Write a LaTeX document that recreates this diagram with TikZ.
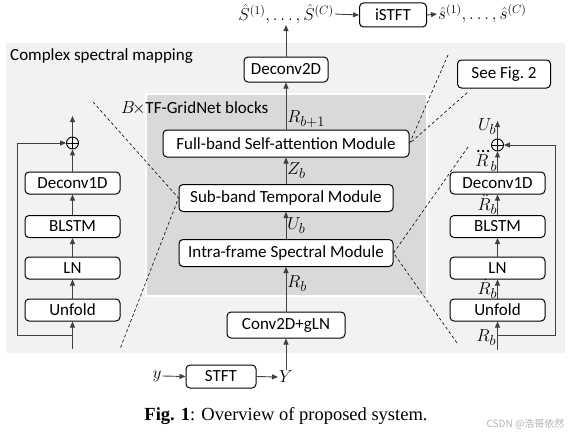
\documentclass[tikz,border=0pt]{standalone}
\usepackage{amsmath}
\usepackage{fontspec}
\setmainfont{Carlito}
\newfontfamily\capfont{Liberation Serif}
\newfontfamily\cjkfont{Noto Sans CJK SC}
\usetikzlibrary{arrows.meta}
\definecolor{outerbg}{HTML}{F2F2F2}
\definecolor{innerbg}{HTML}{D9D9D9}
\definecolor{linegray}{HTML}{404040}
\tikzset{
  box/.style={draw=black, line width=1pt, rounded corners=4pt, fill=white, inner sep=0pt,
    font=\fontsize{17}{20}\selectfont},
  arr/.style={-{Triangle[length=6pt,width=5pt]}, line width=0.9pt, draw=linegray},
  dsh/.style={dash pattern=on 3pt off 2.5pt, line width=0.6pt, draw=black},
  lbl/.style={inner sep=1pt, font=\fontsize{17}{20}\selectfont},
  mlbl/.style={inner sep=1pt, font=\fontsize{19}{22}\selectfont},
  oplus/.style={circle, draw=black, line width=0.9pt, minimum size=12pt, inner sep=0pt,
    path picture={\draw[line width=0.9pt] (path picture bounding box.north) -- (path picture bounding box.south)
      (path picture bounding box.west) -- (path picture bounding box.east);}}
}
\begin{document}
\begin{tikzpicture}[x=1pt,y=-1pt]
\useasboundingbox (0,0) rectangle (572,436);
\fill[white] (0,0) rectangle (572,436);
\fill[outerbg] (6,43) rectangle (565,353);
\draw[white, line width=2.5pt, fill=innerbg] (146,94) rectangle (427,296);

\node[lbl, anchor=west] (title) at (9,56) {Complex spectral mapping};
\node[lbl, anchor=west] (blocks) at (120,108) {{\fontsize{19}{22}\selectfont$B\!\times$}TF-GridNet blocks};

% main column
\node[box, minimum width=84, minimum height=25] (dec2) at (286,69.5) {Deconv2D};
\node[mlbl, font=\fontsize{18}{22}\selectfont] (shat) at (286,14) {$\hat S^{(1)},\ldots,\hat S^{(C)}$};
\node[box, minimum width=67, minimum height=24] (istft) at (393,15) {iSTFT};
\node[mlbl, font=\fontsize{18}{22}\selectfont, anchor=west] (sout) at (437,14) {$\hat s^{(1)},\ldots,\hat s^{(C)}$};
\node[box, minimum width=93, minimum height=28] (fig2) at (504,74) {See Fig.~2};

\node[box, minimum width=246, minimum height=27] (full) at (286,143.5) {Full-band Self-attention Module};
\node[box, minimum width=214, minimum height=27] (sub) at (286,198) {Sub-band Temporal Module};
\node[box, minimum width=214, minimum height=27] (intra) at (286,253) {Intra-frame Spectral Module};
\node[box, minimum width=118, minimum height=26] (conv) at (286,325) {Conv2D+gLN};
\node[box, minimum width=70, minimum height=23] (stft) at (221,376.5) {STFT};
\node[mlbl] (yin) at (157,376) {$y$};
\node[mlbl] (Y) at (286,377) {$Y$};

\draw[arr] (dec2.north) -- (shat.south);
\draw[arr] (shat.east) -- (istft.west);
\draw[arr] (istft.east) -- (sout.west);
\draw[arr] (full.north) -- node[mlbl, right, pos=0.22] {$R_{b+1}$} (dec2.south);
\draw[arr] (sub.north) -- node[mlbl, right] {$Z_b$} (full.south);
\draw[arr] (intra.north) -- node[mlbl, right] {$U_b$} (sub.south);
\draw[arr] (conv.north) -- node[mlbl, right, pos=0.62] {$R_b$} (intra.south);
\draw[arr] (Y.north) -- (conv.south);
\draw[arr] (yin.east) -- (stft.west);
\draw[arr] (stft.east) -- (Y.west);

% left column
\node[box, minimum width=95, minimum height=22] (Ldec) at (72.5,183) {Deconv1D};
\node[box, minimum width=95, minimum height=22] (Lbl) at (72.5,226.5) {BLSTM};
\node[box, minimum width=95, minimum height=22] (Lln) at (72.5,268) {LN};
\node[box, minimum width=95, minimum height=22] (Lun) at (72.5,310) {Unfold};
\node[oplus] (Lplus) at (72.5,143) {};
\coordinate (Ltop) at (72.5,116);
\coordinate (Lin) at (72.5,349);
\coordinate (Lsplit) at (72.5,335);
\coordinate (Lcorner) at (17,335);
\draw[arr] (Lin) -- (Lun.south);
\draw[arr] (Lun.north) -- (Lln.south);
\draw[arr] (Lln.north) -- (Lbl.south);
\draw[arr] (Lbl.north) -- (Ldec.south);
\draw[arr] (Ldec.north) -- (Lplus.south);
\draw[arr] (Lplus.north) -- (Ltop);
\draw[arr] (Lsplit) -- (Lcorner) |- (Lplus.west);

% right column
\node[box, minimum width=95, minimum height=22] (Rdec) at (497.5,183) {Deconv1D};
\node[box, minimum width=95, minimum height=22] (Rbl) at (497.5,226.5) {BLSTM};
\node[box, minimum width=95, minimum height=22] (Rln) at (497.5,268) {LN};
\node[box, minimum width=95, minimum height=22] (Run) at (497.5,310) {Unfold};
\node[oplus] (Rplus) at (497.5,145) {};
\coordinate (Rtop) at (497.5,121);
\coordinate (Rin) at (497.5,350);
\coordinate (Rsplit) at (497.5,335);
\coordinate (Rcorner) at (555,335);
\draw[arr] (Rin) -- node[mlbl, left, pos=0.45] {$R_b$} (Run.south);
\draw[arr] (Run.north) -- node[mlbl, left, inner sep=0pt] {$\dot R_b$} (Rln.south);
\draw[arr] (Rln.north) -- (Rbl.south);
\draw[arr] (Rbl.north) -- node[mlbl, left, inner sep=0pt] {$\ddot R_b$} (Rdec.south);
\draw[arr] (Rdec.north) -- node[mlbl, left, inner sep=0pt] {$\dddot R_b$} (Rplus.south);
\draw[arr] (Rplus.north) -- node[mlbl, left, pos=0.7] {$U_b$} (Rtop);
\draw[arr] (Rsplit) -- (Rcorner) |- (Rplus.east);

% zoom lines
\coordinate (zl1) at (93,102);
\coordinate (zl2) at (120,349);
\coordinate (zr1) at (448,55);
\coordinate (zr2) at (468,92);
\coordinate (zr3) at (468,147);
\coordinate (zr4) at (457,343);
\draw[dsh] (zl1) -- (sub.west) -- (zl2);
\draw[dsh] (zr1) -- (full.east) -- (zr2);
\draw[dsh] (zr3) -- (intra.east) -- (zr4);

% caption
\node[font=\capfont\fontsize{18.5}{22}\selectfont] (cap) at (286,416) {\textbf{Fig. 1}: Overview of proposed system.};
\node[font=\cjkfont\fontsize{10}{12}\selectfont, text=black!30, anchor=east] (wm) at (568,424) {CSDN @浩哥依然};
\end{tikzpicture}
\end{document}
